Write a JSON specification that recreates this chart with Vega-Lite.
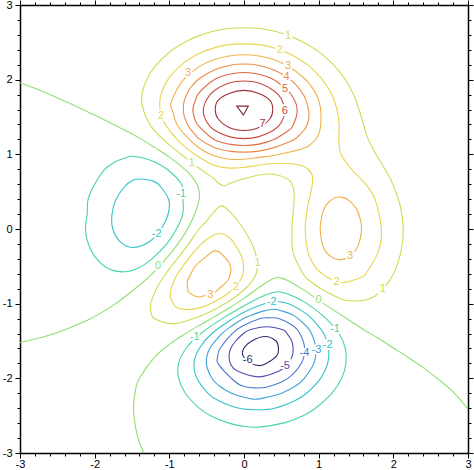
{
"$schema":"https://vega.github.io/schema/vega-lite/v6.json",
"width":448,"height":448,
"autosize":{"type":"none"},
"padding":{"left":20,"top":5,"right":6,"bottom":17},
"background":"white",
"config":{"view":{"stroke":null},"font":"Liberation Sans"},
"resolve":{"axis":{"x":"independent","y":"independent"}},
"datasets":{
"closed":[
{"c":"T7","lv":7,"i":0,"x":-0.385,"y":1.6},{"c":"T7","lv":7,"i":1,"x":-0.35,"y":1.72},{"c":"T7","lv":7,"i":2,"x":-0.2,"y":1.816},{"c":"T7","lv":7,"i":3,"x":0,"y":1.857},{"c":"T7","lv":7,"i":4,"x":0.2,"y":1.816},{"c":"T7","lv":7,"i":5,"x":0.35,"y":1.72},{"c":"T7","lv":7,"i":6,"x":0.385,"y":1.6},{"c":"T7","lv":7,"i":7,"x":0.35,"y":1.48},{"c":"T7","lv":7,"i":8,"x":0.2,"y":1.36},{"c":"T7","lv":7,"i":9,"x":0,"y":1.32},{"c":"T7","lv":7,"i":10,"x":-0.2,"y":1.36},{"c":"T7","lv":7,"i":11,"x":-0.35,"y":1.48},
{"c":"T6","lv":6,"i":0,"x":-0.545,"y":1.58},{"c":"T6","lv":6,"i":1,"x":-0.5,"y":1.733},{"c":"T6","lv":6,"i":2,"x":-0.4,"y":1.851},{"c":"T6","lv":6,"i":3,"x":-0.2,"y":1.954},{"c":"T6","lv":6,"i":4,"x":0,"y":1.983},{"c":"T6","lv":6,"i":5,"x":0.2,"y":1.954},{"c":"T6","lv":6,"i":6,"x":0.4,"y":1.851},{"c":"T6","lv":6,"i":7,"x":0.5,"y":1.743},{"c":"T6","lv":6,"i":8,"x":0.545,"y":1.58},{"c":"T6","lv":6,"i":9,"x":0.5,"y":1.425},{"c":"T6","lv":6,"i":10,"x":0.4,"y":1.326},{"c":"T6","lv":6,"i":11,"x":0.2,"y":1.237},{"c":"T6","lv":6,"i":12,"x":0,"y":1.211},{"c":"T6","lv":6,"i":13,"x":-0.2,"y":1.237},{"c":"T6","lv":6,"i":14,"x":-0.4,"y":1.326},{"c":"T6","lv":6,"i":15,"x":-0.5,"y":1.437},
{"c":"T5","lv":5,"i":0,"x":-0.685,"y":1.6},{"c":"T5","lv":5,"i":1,"x":-0.65,"y":1.723},{"c":"T5","lv":5,"i":2,"x":-0.6,"y":1.826},{"c":"T5","lv":5,"i":3,"x":-0.4,"y":1.999},{"c":"T5","lv":5,"i":4,"x":-0.2,"y":2.073},{"c":"T5","lv":5,"i":5,"x":0,"y":2.096},{"c":"T5","lv":5,"i":6,"x":0.2,"y":2.073},{"c":"T5","lv":5,"i":7,"x":0.4,"y":1.999},{"c":"T5","lv":5,"i":8,"x":0.6,"y":1.838},{"c":"T5","lv":5,"i":9,"x":0.65,"y":1.771},{"c":"T5","lv":5,"i":10,"x":0.7,"y":1.67},{"c":"T5","lv":5,"i":11,"x":0.712,"y":1.58},{"c":"T5","lv":5,"i":12,"x":0.7,"y":1.5},{"c":"T5","lv":5,"i":13,"x":0.65,"y":1.375},{"c":"T5","lv":5,"i":14,"x":0.6,"y":1.323},{"c":"T5","lv":5,"i":15,"x":0.4,"y":1.198},{"c":"T5","lv":5,"i":16,"x":0.2,"y":1.137},{"c":"T5","lv":5,"i":17,"x":0,"y":1.118},{"c":"T5","lv":5,"i":18,"x":-0.2,"y":1.137},{"c":"T5","lv":5,"i":19,"x":-0.4,"y":1.198},{"c":"T5","lv":5,"i":20,"x":-0.6,"y":1.372},{"c":"T5","lv":5,"i":21,"x":-0.65,"y":1.448},
{"c":"T4","lv":4,"i":0,"x":-0.812,"y":1.61},{"c":"T4","lv":4,"i":1,"x":-0.8,"y":1.718},{"c":"T4","lv":4,"i":2,"x":-0.75,"y":1.838},{"c":"T4","lv":4,"i":3,"x":-0.7,"y":1.912},{"c":"T4","lv":4,"i":4,"x":-0.6,"y":2.012},{"c":"T4","lv":4,"i":5,"x":-0.4,"y":2.131},{"c":"T4","lv":4,"i":6,"x":-0.2,"y":2.19},{"c":"T4","lv":4,"i":7,"x":0,"y":2.209},{"c":"T4","lv":4,"i":8,"x":0.2,"y":2.19},{"c":"T4","lv":4,"i":9,"x":0.4,"y":2.131},{"c":"T4","lv":4,"i":10,"x":0.6,"y":2.016},{"c":"T4","lv":4,"i":11,"x":0.7,"y":1.926},{"c":"T4","lv":4,"i":12,"x":0.8,"y":1.79},{"c":"T4","lv":4,"i":13,"x":0.85,"y":1.66},{"c":"T4","lv":4,"i":14,"x":0.872,"y":1.53},{"c":"T4","lv":4,"i":15,"x":0.85,"y":1.41},{"c":"T4","lv":4,"i":16,"x":0.8,"y":1.319},{"c":"T4","lv":4,"i":17,"x":0.7,"y":1.218},{"c":"T4","lv":4,"i":18,"x":0.6,"y":1.164},{"c":"T4","lv":4,"i":19,"x":0.4,"y":1.09},{"c":"T4","lv":4,"i":20,"x":0.2,"y":1.043},{"c":"T4","lv":4,"i":21,"x":0,"y":1.029},{"c":"T4","lv":4,"i":22,"x":-0.2,"y":1.043},{"c":"T4","lv":4,"i":23,"x":-0.4,"y":1.09},{"c":"T4","lv":4,"i":24,"x":-0.6,"y":1.207},{"c":"T4","lv":4,"i":25,"x":-0.7,"y":1.318},{"c":"T4","lv":4,"i":26,"x":-0.75,"y":1.389},{"c":"T4","lv":4,"i":27,"x":-0.8,"y":1.508},
{"c":"T3","lv":3,"i":0,"x":-0.982,"y":1.66},{"c":"T3","lv":3,"i":1,"x":-0.95,"y":1.76},{"c":"T3","lv":3,"i":2,"x":-0.9,"y":1.866},{"c":"T3","lv":3,"i":3,"x":-0.8,"y":2.011},{"c":"T3","lv":3,"i":4,"x":-0.6,"y":2.175},{"c":"T3","lv":3,"i":5,"x":-0.4,"y":2.267},{"c":"T3","lv":3,"i":6,"x":-0.2,"y":2.317},{"c":"T3","lv":3,"i":7,"x":0,"y":2.333},{"c":"T3","lv":3,"i":8,"x":0.2,"y":2.317},{"c":"T3","lv":3,"i":9,"x":0.4,"y":2.267},{"c":"T3","lv":3,"i":10,"x":0.6,"y":2.176},{"c":"T3","lv":3,"i":11,"x":0.8,"y":2.026},{"c":"T3","lv":3,"i":12,"x":0.9,"y":1.912},{"c":"T3","lv":3,"i":13,"x":1.0,"y":1.729},{"c":"T3","lv":3,"i":14,"x":1.032,"y":1.5},{"c":"T3","lv":3,"i":15,"x":1.0,"y":1.268},{"c":"T3","lv":3,"i":16,"x":0.9,"y":1.14},{"c":"T3","lv":3,"i":17,"x":0.8,"y":1.08},{"c":"T3","lv":3,"i":18,"x":0.6,"y":1.027},{"c":"T3","lv":3,"i":19,"x":0.4,"y":0.985},{"c":"T3","lv":3,"i":20,"x":0.2,"y":0.959},{"c":"T3","lv":3,"i":21,"x":0,"y":0.935},{"c":"T3","lv":3,"i":22,"x":-0.2,"y":0.934},{"c":"T3","lv":3,"i":23,"x":-0.4,"y":0.98},{"c":"T3","lv":3,"i":24,"x":-0.6,"y":1.084},{"c":"T3","lv":3,"i":25,"x":-0.8,"y":1.27},{"c":"T3","lv":3,"i":26,"x":-0.9,"y":1.405},{"c":"T3","lv":3,"i":27,"x":-0.95,"y":1.56},
{"c":"R3","lv":3,"i":0,"x":1.02,"y":0},{"c":"R3","lv":3,"i":1,"x":1.05,"y":0.205},{"c":"R3","lv":3,"i":2,"x":1.1,"y":0.32},{"c":"R3","lv":3,"i":3,"x":1.2,"y":0.41},{"c":"R3","lv":3,"i":4,"x":1.3,"y":0.427},{"c":"R3","lv":3,"i":5,"x":1.4,"y":0.387},{"c":"R3","lv":3,"i":6,"x":1.5,"y":0.279},{"c":"R3","lv":3,"i":7,"x":1.55,"y":0.16},{"c":"R3","lv":3,"i":8,"x":1.575,"y":0},{"c":"R3","lv":3,"i":9,"x":1.55,"y":-0.16},{"c":"R3","lv":3,"i":10,"x":1.5,"y":-0.278},{"c":"R3","lv":3,"i":11,"x":1.4,"y":-0.378},{"c":"R3","lv":3,"i":12,"x":1.3,"y":-0.41},{"c":"R3","lv":3,"i":13,"x":1.2,"y":-0.39},{"c":"R3","lv":3,"i":14,"x":1.1,"y":-0.31},{"c":"R3","lv":3,"i":15,"x":1.05,"y":-0.205},
{"c":"C2","lv":2,"i":0,"x":0,"y":2.48},{"c":"C2","lv":2,"i":1,"x":0.2,"y":2.469},{"c":"C2","lv":2,"i":2,"x":0.4,"y":2.426},{"c":"C2","lv":2,"i":3,"x":0.6,"y":2.351},{"c":"C2","lv":2,"i":4,"x":0.8,"y":2.237},{"c":"C2","lv":2,"i":5,"x":0.9,"y":2.159},{"c":"C2","lv":2,"i":6,"x":1.05,"y":2.0},{"c":"C2","lv":2,"i":7,"x":1.177,"y":1.8},{"c":"C2","lv":2,"i":8,"x":1.246,"y":1.6},{"c":"C2","lv":2,"i":9,"x":1.275,"y":1.4},{"c":"C2","lv":2,"i":10,"x":1.27,"y":1.2},{"c":"C2","lv":2,"i":11,"x":1.3,"y":1.0},{"c":"C2","lv":2,"i":12,"x":1.44,"y":0.8},{"c":"C2","lv":2,"i":13,"x":1.63,"y":0.6},{"c":"C2","lv":2,"i":14,"x":1.754,"y":0.4},{"c":"C2","lv":2,"i":15,"x":1.84,"y":0},{"c":"C2","lv":2,"i":16,"x":1.8,"y":-0.3},{"c":"C2","lv":2,"i":17,"x":1.63,"y":-0.6},{"c":"C2","lv":2,"i":18,"x":1.56,"y":-0.65},{"c":"C2","lv":2,"i":19,"x":1.42,"y":-0.7},{"c":"C2","lv":2,"i":20,"x":1.32,"y":-0.72},{"c":"C2","lv":2,"i":21,"x":1.22,"y":-0.7},{"c":"C2","lv":2,"i":22,"x":1.123,"y":-0.65},{"c":"C2","lv":2,"i":23,"x":1.05,"y":-0.6},{"c":"C2","lv":2,"i":24,"x":0.948,"y":-0.5},{"c":"C2","lv":2,"i":25,"x":0.855,"y":-0.3},{"c":"C2","lv":2,"i":26,"x":0.82,"y":0},{"c":"C2","lv":2,"i":27,"x":0.853,"y":0.3},{"c":"C2","lv":2,"i":28,"x":0.875,"y":0.4},{"c":"C2","lv":2,"i":29,"x":0.9,"y":0.513},{"c":"C2","lv":2,"i":30,"x":0.92,"y":0.65},{"c":"C2","lv":2,"i":31,"x":0.9,"y":0.752},{"c":"C2","lv":2,"i":32,"x":0.8,"y":0.837},{"c":"C2","lv":2,"i":33,"x":0.6,"y":0.877},{"c":"C2","lv":2,"i":34,"x":0.4,"y":0.877},{"c":"C2","lv":2,"i":35,"x":0.2,"y":0.854},{"c":"C2","lv":2,"i":36,"x":0,"y":0.825},{"c":"C2","lv":2,"i":37,"x":-0.2,"y":0.816},{"c":"C2","lv":2,"i":38,"x":-0.4,"y":0.853},{"c":"C2","lv":2,"i":39,"x":-0.6,"y":0.96},{"c":"C2","lv":2,"i":40,"x":-0.8,"y":1.107},{"c":"C2","lv":2,"i":41,"x":-1.0,"y":1.321},{"c":"C2","lv":2,"i":42,"x":-1.1,"y":1.5},{"c":"C2","lv":2,"i":43,"x":-1.13,"y":1.67},{"c":"C2","lv":2,"i":44,"x":-1.1,"y":1.839},{"c":"C2","lv":2,"i":45,"x":-1.0,"y":2.031},{"c":"C2","lv":2,"i":46,"x":-0.8,"y":2.231},{"c":"C2","lv":2,"i":47,"x":-0.6,"y":2.351},{"c":"C2","lv":2,"i":48,"x":-0.4,"y":2.426},{"c":"C2","lv":2,"i":49,"x":-0.2,"y":2.469},
{"c":"C1","lv":1,"i":0,"x":0,"y":2.695},{"c":"C1","lv":1,"i":1,"x":0.2,"y":2.685},{"c":"C1","lv":1,"i":2,"x":0.4,"y":2.651},{"c":"C1","lv":1,"i":3,"x":0.6,"y":2.59},{"c":"C1","lv":1,"i":4,"x":0.8,"y":2.499},{"c":"C1","lv":1,"i":5,"x":1.0,"y":2.375},{"c":"C1","lv":1,"i":6,"x":1.197,"y":2.2},{"c":"C1","lv":1,"i":7,"x":1.357,"y":2.0},{"c":"C1","lv":1,"i":8,"x":1.467,"y":1.8},{"c":"C1","lv":1,"i":9,"x":1.541,"y":1.6},{"c":"C1","lv":1,"i":10,"x":1.6,"y":1.4},{"c":"C1","lv":1,"i":11,"x":1.663,"y":1.2},{"c":"C1","lv":1,"i":12,"x":1.768,"y":1.0},{"c":"C1","lv":1,"i":13,"x":1.888,"y":0.8},{"c":"C1","lv":1,"i":14,"x":1.993,"y":0.6},{"c":"C1","lv":1,"i":15,"x":2.095,"y":0.3},{"c":"C1","lv":1,"i":16,"x":2.133,"y":0},{"c":"C1","lv":1,"i":17,"x":2.104,"y":-0.3},{"c":"C1","lv":1,"i":18,"x":2.003,"y":-0.6},{"c":"C1","lv":1,"i":19,"x":1.865,"y":-0.8},{"c":"C1","lv":1,"i":20,"x":1.75,"y":-0.9},{"c":"C1","lv":1,"i":21,"x":1.63,"y":-0.95},{"c":"C1","lv":1,"i":22,"x":1.5,"y":-0.965},{"c":"C1","lv":1,"i":23,"x":1.34,"y":-0.95},{"c":"C1","lv":1,"i":24,"x":1.22,"y":-0.9},{"c":"C1","lv":1,"i":25,"x":1.03,"y":-0.8},{"c":"C1","lv":1,"i":26,"x":0.888,"y":-0.7},{"c":"C1","lv":1,"i":27,"x":0.79,"y":-0.6},{"c":"C1","lv":1,"i":28,"x":0.655,"y":-0.3},{"c":"C1","lv":1,"i":29,"x":0.643,"y":0},{"c":"C1","lv":1,"i":30,"x":0.65,"y":0.13},{"c":"C1","lv":1,"i":31,"x":0.66,"y":0.23},{"c":"C1","lv":1,"i":32,"x":0.672,"y":0.42},{"c":"C1","lv":1,"i":33,"x":0.66,"y":0.55},{"c":"C1","lv":1,"i":34,"x":0.6,"y":0.658},{"c":"C1","lv":1,"i":35,"x":0.4,"y":0.733},{"c":"C1","lv":1,"i":36,"x":0.2,"y":0.723},{"c":"C1","lv":1,"i":37,"x":0,"y":0.672},{"c":"C1","lv":1,"i":38,"x":-0.18,"y":0.615},{"c":"C1","lv":1,"i":39,"x":-0.27,"y":0.575},{"c":"C1","lv":1,"i":40,"x":-0.36,"y":0.63},{"c":"C1","lv":1,"i":41,"x":-0.4,"y":0.673},{"c":"C1","lv":1,"i":42,"x":-0.6,"y":0.814},{"c":"C1","lv":1,"i":43,"x":-0.8,"y":0.966},{"c":"C1","lv":1,"i":44,"x":-1.0,"y":1.126},{"c":"C1","lv":1,"i":45,"x":-1.2,"y":1.318},{"c":"C1","lv":1,"i":46,"x":-1.3,"y":1.469},{"c":"C1","lv":1,"i":47,"x":-1.36,"y":1.64},{"c":"C1","lv":1,"i":48,"x":-1.37,"y":1.74},{"c":"C1","lv":1,"i":49,"x":-1.36,"y":1.84},{"c":"C1","lv":1,"i":50,"x":-1.3,"y":2.007},{"c":"C1","lv":1,"i":51,"x":-1.2,"y":2.167},{"c":"C1","lv":1,"i":52,"x":-1.0,"y":2.367},{"c":"C1","lv":1,"i":53,"x":-0.8,"y":2.497},{"c":"C1","lv":1,"i":54,"x":-0.6,"y":2.59},{"c":"C1","lv":1,"i":55,"x":-0.4,"y":2.651},{"c":"C1","lv":1,"i":56,"x":-0.2,"y":2.685},
{"c":"L3","lv":3,"i":0,"x":-0.38,"y":-0.29},{"c":"L3","lv":3,"i":1,"x":-0.237,"y":-0.4},{"c":"L3","lv":3,"i":2,"x":-0.182,"y":-0.5},{"c":"L3","lv":3,"i":3,"x":-0.182,"y":-0.6},{"c":"L3","lv":3,"i":4,"x":-0.225,"y":-0.7},{"c":"L3","lv":3,"i":5,"x":-0.335,"y":-0.8},{"c":"L3","lv":3,"i":6,"x":-0.396,"y":-0.85},{"c":"L3","lv":3,"i":7,"x":-0.55,"y":-0.9},{"c":"L3","lv":3,"i":8,"x":-0.6,"y":-0.91},{"c":"L3","lv":3,"i":9,"x":-0.65,"y":-0.9},{"c":"L3","lv":3,"i":10,"x":-0.74,"y":-0.85},{"c":"L3","lv":3,"i":11,"x":-0.753,"y":-0.8},{"c":"L3","lv":3,"i":12,"x":-0.759,"y":-0.7},{"c":"L3","lv":3,"i":13,"x":-0.709,"y":-0.6},{"c":"L3","lv":3,"i":14,"x":-0.655,"y":-0.5},{"c":"L3","lv":3,"i":15,"x":-0.543,"y":-0.4},
{"c":"L2","lv":2,"i":0,"x":-0.33,"y":-0.06},{"c":"L2","lv":2,"i":1,"x":-0.213,"y":-0.1},{"c":"L2","lv":2,"i":2,"x":-0.127,"y":-0.2},{"c":"L2","lv":2,"i":3,"x":-0.019,"y":-0.4},{"c":"L2","lv":2,"i":4,"x":-0.012,"y":-0.6},{"c":"L2","lv":2,"i":5,"x":-0.058,"y":-0.7},{"c":"L2","lv":2,"i":6,"x":-0.139,"y":-0.8},{"c":"L2","lv":2,"i":7,"x":-0.269,"y":-0.9},{"c":"L2","lv":2,"i":8,"x":-0.453,"y":-1.0},{"c":"L2","lv":2,"i":9,"x":-0.575,"y":-1.05},{"c":"L2","lv":2,"i":10,"x":-0.75,"y":-1.08},{"c":"L2","lv":2,"i":11,"x":-0.9,"y":-1.05},{"c":"L2","lv":2,"i":12,"x":-0.946,"y":-1.0},{"c":"L2","lv":2,"i":13,"x":-0.987,"y":-0.9},{"c":"L2","lv":2,"i":14,"x":-0.975,"y":-0.8},{"c":"L2","lv":2,"i":15,"x":-0.941,"y":-0.7},{"c":"L2","lv":2,"i":16,"x":-0.888,"y":-0.6},{"c":"L2","lv":2,"i":17,"x":-0.745,"y":-0.4},{"c":"L2","lv":2,"i":18,"x":-0.571,"y":-0.2},{"c":"L2","lv":2,"i":19,"x":-0.439,"y":-0.1},
{"c":"L1","lv":1,"i":0,"x":-0.3,"y":0.31},{"c":"L1","lv":1,"i":1,"x":-0.157,"y":0.2},{"c":"L1","lv":1,"i":2,"x":-0.076,"y":0.1},{"c":"L1","lv":1,"i":3,"x":-0.006,"y":0},{"c":"L1","lv":1,"i":4,"x":0.107,"y":-0.2},{"c":"L1","lv":1,"i":5,"x":0.175,"y":-0.4},{"c":"L1","lv":1,"i":6,"x":0.182,"y":-0.5},{"c":"L1","lv":1,"i":7,"x":0.162,"y":-0.6},{"c":"L1","lv":1,"i":8,"x":0.108,"y":-0.7},{"c":"L1","lv":1,"i":9,"x":0.015,"y":-0.8},{"c":"L1","lv":1,"i":10,"x":-0.105,"y":-0.9},{"c":"L1","lv":1,"i":11,"x":-0.257,"y":-1.0},{"c":"L1","lv":1,"i":12,"x":-0.439,"y":-1.1},{"c":"L1","lv":1,"i":13,"x":-0.678,"y":-1.2},{"c":"L1","lv":1,"i":14,"x":-0.95,"y":-1.27},{"c":"L1","lv":1,"i":15,"x":-1.2,"y":-1.2},{"c":"L1","lv":1,"i":16,"x":-1.248,"y":-1.1},{"c":"L1","lv":1,"i":17,"x":-1.25,"y":-1.0},{"c":"L1","lv":1,"i":18,"x":-1.174,"y":-0.8},{"c":"L1","lv":1,"i":19,"x":-1.048,"y":-0.6},{"c":"L1","lv":1,"i":20,"x":-0.895,"y":-0.4},{"c":"L1","lv":1,"i":21,"x":-0.74,"y":-0.2},{"c":"L1","lv":1,"i":22,"x":-0.603,"y":0},{"c":"L1","lv":1,"i":23,"x":-0.507,"y":0.1},{"c":"L1","lv":1,"i":24,"x":-0.426,"y":0.2},
{"c":"LM1","lv":-1,"i":0,"x":-1.5,"y":0.975},{"c":"LM1","lv":-1,"i":1,"x":-1.35,"y":0.95},{"c":"LM1","lv":-1,"i":2,"x":-1.205,"y":0.9},{"c":"LM1","lv":-1,"i":3,"x":-1.029,"y":0.8},{"c":"LM1","lv":-1,"i":4,"x":-0.836,"y":0.6},{"c":"LM1","lv":-1,"i":5,"x":-0.817,"y":0.4},{"c":"LM1","lv":-1,"i":6,"x":-0.82,"y":0.2},{"c":"LM1","lv":-1,"i":7,"x":-0.904,"y":0},{"c":"LM1","lv":-1,"i":8,"x":-1.034,"y":-0.2},{"c":"LM1","lv":-1,"i":9,"x":-1.234,"y":-0.4},{"c":"LM1","lv":-1,"i":10,"x":-1.4,"y":-0.514},{"c":"LM1","lv":-1,"i":11,"x":-1.6,"y":-0.573},{"c":"LM1","lv":-1,"i":12,"x":-1.8,"y":-0.54},{"c":"LM1","lv":-1,"i":13,"x":-1.973,"y":-0.4},{"c":"LM1","lv":-1,"i":14,"x":-2.084,"y":-0.2},{"c":"LM1","lv":-1,"i":15,"x":-2.124,"y":0},{"c":"LM1","lv":-1,"i":16,"x":-2.1,"y":0.2},{"c":"LM1","lv":-1,"i":17,"x":-2.088,"y":0.4},{"c":"LM1","lv":-1,"i":18,"x":-2.0,"y":0.6},{"c":"LM1","lv":-1,"i":19,"x":-1.865,"y":0.8},{"c":"LM1","lv":-1,"i":20,"x":-1.725,"y":0.9},{"c":"LM1","lv":-1,"i":21,"x":-1.6,"y":0.95},
{"c":"LM2","lv":-2,"i":0,"x":-1.399,"y":0.67},{"c":"LM2","lv":-2,"i":1,"x":-1.215,"y":0.641},{"c":"LM2","lv":-2,"i":2,"x":-1.117,"y":0.569},{"c":"LM2","lv":-2,"i":3,"x":-1.006,"y":0.385},{"c":"LM2","lv":-2,"i":4,"x":-1.016,"y":0.201},{"c":"LM2","lv":-2,"i":5,"x":-1.1,"y":0.017},{"c":"LM2","lv":-2,"i":6,"x":-1.264,"y":-0.167},{"c":"LM2","lv":-2,"i":7,"x":-1.491,"y":-0.248},{"c":"LM2","lv":-2,"i":8,"x":-1.663,"y":-0.167},{"c":"LM2","lv":-2,"i":9,"x":-1.761,"y":0.017},{"c":"LM2","lv":-2,"i":10,"x":-1.767,"y":0.201},{"c":"LM2","lv":-2,"i":11,"x":-1.719,"y":0.385},{"c":"LM2","lv":-2,"i":12,"x":-1.598,"y":0.569},{"c":"LM2","lv":-2,"i":13,"x":-1.491,"y":0.652},
{"c":"B1","lv":-1,"i":0,"x":0.45,"y":-0.84},{"c":"B1","lv":-1,"i":1,"x":0.52,"y":-0.85},{"c":"B1","lv":-1,"i":2,"x":0.66,"y":-0.9},{"c":"B1","lv":-1,"i":3,"x":0.843,"y":-1.0},{"c":"B1","lv":-1,"i":4,"x":1.101,"y":-1.2},{"c":"B1","lv":-1,"i":5,"x":1.273,"y":-1.4},{"c":"B1","lv":-1,"i":6,"x":1.357,"y":-1.6},{"c":"B1","lv":-1,"i":7,"x":1.365,"y":-1.8},{"c":"B1","lv":-1,"i":8,"x":1.309,"y":-2.0},{"c":"B1","lv":-1,"i":9,"x":1.175,"y":-2.2},{"c":"B1","lv":-1,"i":10,"x":0.956,"y":-2.4},{"c":"B1","lv":-1,"i":11,"x":0.791,"y":-2.5},{"c":"B1","lv":-1,"i":12,"x":0.521,"y":-2.6},{"c":"B1","lv":-1,"i":13,"x":0.2,"y":-2.653},{"c":"B1","lv":-1,"i":14,"x":0,"y":-2.644},{"c":"B1","lv":-1,"i":15,"x":-0.2,"y":-2.6},{"c":"B1","lv":-1,"i":16,"x":-0.448,"y":-2.5},{"c":"B1","lv":-1,"i":17,"x":-0.6,"y":-2.4},{"c":"B1","lv":-1,"i":18,"x":-0.785,"y":-2.2},{"c":"B1","lv":-1,"i":19,"x":-0.875,"y":-2.0},{"c":"B1","lv":-1,"i":20,"x":-0.876,"y":-1.8},{"c":"B1","lv":-1,"i":21,"x":-0.776,"y":-1.6},{"c":"B1","lv":-1,"i":22,"x":-0.579,"y":-1.4},{"c":"B1","lv":-1,"i":23,"x":-0.291,"y":-1.2},{"c":"B1","lv":-1,"i":24,"x":0.05,"y":-1.0},{"c":"B1","lv":-1,"i":25,"x":0.249,"y":-0.9},{"c":"B1","lv":-1,"i":26,"x":0.39,"y":-0.85},
{"c":"B2","lv":-2,"i":0,"x":0.45,"y":-0.975},{"c":"B2","lv":-2,"i":1,"x":0.597,"y":-1.0},{"c":"B2","lv":-2,"i":2,"x":0.782,"y":-1.1},{"c":"B2","lv":-2,"i":3,"x":0.907,"y":-1.2},{"c":"B2","lv":-2,"i":4,"x":1.068,"y":-1.4},{"c":"B2","lv":-2,"i":5,"x":1.134,"y":-1.6},{"c":"B2","lv":-2,"i":6,"x":1.121,"y":-1.8},{"c":"B2","lv":-2,"i":7,"x":1.026,"y":-2.0},{"c":"B2","lv":-2,"i":8,"x":0.837,"y":-2.2},{"c":"B2","lv":-2,"i":9,"x":0.68,"y":-2.3},{"c":"B2","lv":-2,"i":10,"x":0.41,"y":-2.4},{"c":"B2","lv":-2,"i":11,"x":0.2,"y":-2.42},{"c":"B2","lv":-2,"i":12,"x":-0.066,"y":-2.4},{"c":"B2","lv":-2,"i":13,"x":-0.338,"y":-2.3},{"c":"B2","lv":-2,"i":14,"x":-0.482,"y":-2.2},{"c":"B2","lv":-2,"i":15,"x":-0.63,"y":-2.0},{"c":"B2","lv":-2,"i":16,"x":-0.67,"y":-1.8},{"c":"B2","lv":-2,"i":17,"x":-0.6,"y":-1.6},{"c":"B2","lv":-2,"i":18,"x":-0.43,"y":-1.4},{"c":"B2","lv":-2,"i":19,"x":-0.149,"y":-1.2},{"c":"B2","lv":-2,"i":20,"x":0.025,"y":-1.1},{"c":"B2","lv":-2,"i":21,"x":0.275,"y":-1.0},
{"c":"B3","lv":-3,"i":0,"x":0.4,"y":-1.075},{"c":"B3","lv":-3,"i":1,"x":0.516,"y":-1.1},{"c":"B3","lv":-3,"i":2,"x":0.65,"y":-1.15},{"c":"B3","lv":-3,"i":3,"x":0.724,"y":-1.2},{"c":"B3","lv":-3,"i":4,"x":0.834,"y":-1.3},{"c":"B3","lv":-3,"i":5,"x":0.904,"y":-1.4},{"c":"B3","lv":-3,"i":6,"x":0.963,"y":-1.6},{"c":"B3","lv":-3,"i":7,"x":0.935,"y":-1.8},{"c":"B3","lv":-3,"i":8,"x":0.807,"y":-2.0},{"c":"B3","lv":-3,"i":9,"x":0.695,"y":-2.1},{"c":"B3","lv":-3,"i":10,"x":0.504,"y":-2.2},{"c":"B3","lv":-3,"i":11,"x":0.319,"y":-2.25},{"c":"B3","lv":-3,"i":12,"x":0.15,"y":-2.28},{"c":"B3","lv":-3,"i":13,"x":-0.011,"y":-2.25},{"c":"B3","lv":-3,"i":14,"x":-0.169,"y":-2.2},{"c":"B3","lv":-3,"i":15,"x":-0.334,"y":-2.1},{"c":"B3","lv":-3,"i":16,"x":-0.43,"y":-2.0},{"c":"B3","lv":-3,"i":17,"x":-0.504,"y":-1.8},{"c":"B3","lv":-3,"i":18,"x":-0.459,"y":-1.6},{"c":"B3","lv":-3,"i":19,"x":-0.295,"y":-1.4},{"c":"B3","lv":-3,"i":20,"x":-0.165,"y":-1.3},{"c":"B3","lv":-3,"i":21,"x":-0.006,"y":-1.2},{"c":"B3","lv":-3,"i":22,"x":0.109,"y":-1.15},{"c":"B3","lv":-3,"i":23,"x":0.258,"y":-1.1},
{"c":"B4","lv":-4,"i":0,"x":0.33,"y":-1.19},{"c":"B4","lv":-4,"i":1,"x":0.467,"y":-1.2},{"c":"B4","lv":-4,"i":2,"x":0.662,"y":-1.3},{"c":"B4","lv":-4,"i":3,"x":0.748,"y":-1.4},{"c":"B4","lv":-4,"i":4,"x":0.813,"y":-1.6},{"c":"B4","lv":-4,"i":5,"x":0.766,"y":-1.8},{"c":"B4","lv":-4,"i":6,"x":0.587,"y":-2.0},{"c":"B4","lv":-4,"i":7,"x":0.368,"y":-2.1},{"c":"B4","lv":-4,"i":8,"x":0.2,"y":-2.13},{"c":"B4","lv":-4,"i":9,"x":-0.026,"y":-2.1},{"c":"B4","lv":-4,"i":10,"x":-0.169,"y":-2.0},{"c":"B4","lv":-4,"i":11,"x":-0.348,"y":-1.8},{"c":"B4","lv":-4,"i":12,"x":-0.351,"y":-1.7},{"c":"B4","lv":-4,"i":13,"x":-0.321,"y":-1.6},{"c":"B4","lv":-4,"i":14,"x":-0.158,"y":-1.4},{"c":"B4","lv":-4,"i":15,"x":-0.019,"y":-1.3},{"c":"B4","lv":-4,"i":16,"x":0.218,"y":-1.2},
{"c":"B5","lv":-5,"i":0,"x":0.3,"y":-1.31},{"c":"B5","lv":-5,"i":1,"x":0.52,"y":-1.35},{"c":"B5","lv":-5,"i":2,"x":0.577,"y":-1.4},{"c":"B5","lv":-5,"i":3,"x":0.64,"y":-1.5},{"c":"B5","lv":-5,"i":4,"x":0.658,"y":-1.6},{"c":"B5","lv":-5,"i":5,"x":0.647,"y":-1.7},{"c":"B5","lv":-5,"i":6,"x":0.592,"y":-1.8},{"c":"B5","lv":-5,"i":7,"x":0.477,"y":-1.9},{"c":"B5","lv":-5,"i":8,"x":0.2,"y":-1.98},{"c":"B5","lv":-5,"i":9,"x":-0.094,"y":-1.9},{"c":"B5","lv":-5,"i":10,"x":-0.183,"y":-1.8},{"c":"B5","lv":-5,"i":11,"x":-0.2,"y":-1.7},{"c":"B5","lv":-5,"i":12,"x":-0.179,"y":-1.6},{"c":"B5","lv":-5,"i":13,"x":-0.11,"y":-1.5},{"c":"B5","lv":-5,"i":14,"x":-0.006,"y":-1.4},{"c":"B5","lv":-5,"i":15,"x":0.08,"y":-1.35},
{"c":"B6","lv":-6,"i":0,"x":0.28,"y":-1.44},{"c":"B6","lv":-6,"i":1,"x":0.428,"y":-1.5},{"c":"B6","lv":-6,"i":2,"x":0.462,"y":-1.6},{"c":"B6","lv":-6,"i":3,"x":0.438,"y":-1.7},{"c":"B6","lv":-6,"i":4,"x":0.298,"y":-1.8},{"c":"B6","lv":-6,"i":5,"x":0.2,"y":-1.83},{"c":"B6","lv":-6,"i":6,"x":0.103,"y":-1.8},{"c":"B6","lv":-6,"i":7,"x":-0.012,"y":-1.7},{"c":"B6","lv":-6,"i":8,"x":-0.004,"y":-1.6},{"c":"B6","lv":-6,"i":9,"x":0.104,"y":-1.5}
],
"tri":[
{"c":"T8","lv":8,"i":0,"x":-0.098,"y":1.645},{"c":"T8","lv":8,"i":1,"x":0.058,"y":1.645},{"c":"T8","lv":8,"i":2,"x":-0.009,"y":1.528}
],
"open":[
{"c":"ZL","lv":0,"i":0,"x":-3,"y":1.96},{"c":"ZL","lv":0,"i":1,"x":-2.8,"y":1.885},{"c":"ZL","lv":0,"i":2,"x":-2.6,"y":1.8},{"c":"ZL","lv":0,"i":3,"x":-2.4,"y":1.712},{"c":"ZL","lv":0,"i":4,"x":-2.2,"y":1.622},{"c":"ZL","lv":0,"i":5,"x":-2.0,"y":1.526},{"c":"ZL","lv":0,"i":6,"x":-1.8,"y":1.427},{"c":"ZL","lv":0,"i":7,"x":-1.6,"y":1.325},{"c":"ZL","lv":0,"i":8,"x":-1.4,"y":1.217},{"c":"ZL","lv":0,"i":9,"x":-1.2,"y":1.093},{"c":"ZL","lv":0,"i":10,"x":-1.0,"y":0.962},{"c":"ZL","lv":0,"i":11,"x":-0.8,"y":0.806},{"c":"ZL","lv":0,"i":12,"x":-0.7,"y":0.705},{"c":"ZL","lv":0,"i":13,"x":-0.63,"y":0.6},{"c":"ZL","lv":0,"i":14,"x":-0.6,"y":0.5},{"c":"ZL","lv":0,"i":15,"x":-0.6,"y":0.4},{"c":"ZL","lv":0,"i":16,"x":-0.66,"y":0.2},{"c":"ZL","lv":0,"i":17,"x":-0.756,"y":0},{"c":"ZL","lv":0,"i":18,"x":-0.885,"y":-0.2},{"c":"ZL","lv":0,"i":19,"x":-1.045,"y":-0.4},{"c":"ZL","lv":0,"i":20,"x":-1.23,"y":-0.6},{"c":"ZL","lv":0,"i":21,"x":-1.46,"y":-0.8},{"c":"ZL","lv":0,"i":22,"x":-1.72,"y":-1.0},{"c":"ZL","lv":0,"i":23,"x":-2.05,"y":-1.2},{"c":"ZL","lv":0,"i":24,"x":-2.4,"y":-1.35},{"c":"ZL","lv":0,"i":25,"x":-2.7,"y":-1.45},{"c":"ZL","lv":0,"i":26,"x":-3,"y":-1.52},
{"c":"ZB","lv":0,"i":0,"x":-1.34,"y":-3.0},{"c":"ZB","lv":0,"i":1,"x":-1.4,"y":-2.86},{"c":"ZB","lv":0,"i":2,"x":-1.45,"y":-2.67},{"c":"ZB","lv":0,"i":3,"x":-1.48,"y":-2.4},{"c":"ZB","lv":0,"i":4,"x":-1.45,"y":-2.14},{"c":"ZB","lv":0,"i":5,"x":-1.4,"y":-2.0},{"c":"ZB","lv":0,"i":6,"x":-1.2,"y":-1.72},{"c":"ZB","lv":0,"i":7,"x":-1.0,"y":-1.546},{"c":"ZB","lv":0,"i":8,"x":-0.8,"y":-1.411},{"c":"ZB","lv":0,"i":9,"x":-0.6,"y":-1.292},{"c":"ZB","lv":0,"i":10,"x":-0.4,"y":-1.177},{"c":"ZB","lv":0,"i":11,"x":-0.2,"y":-1.059},{"c":"ZB","lv":0,"i":12,"x":0,"y":-0.929},{"c":"ZB","lv":0,"i":13,"x":0.2,"y":-0.784},{"c":"ZB","lv":0,"i":14,"x":0.4,"y":-0.661},{"c":"ZB","lv":0,"i":15,"x":0.5,"y":-0.658},{"c":"ZB","lv":0,"i":16,"x":0.6,"y":-0.696},{"c":"ZB","lv":0,"i":17,"x":0.8,"y":-0.815},{"c":"ZB","lv":0,"i":18,"x":1.0,"y":-0.956},{"c":"ZB","lv":0,"i":19,"x":1.2,"y":-1.086},{"c":"ZB","lv":0,"i":20,"x":1.4,"y":-1.216},{"c":"ZB","lv":0,"i":21,"x":1.6,"y":-1.345},{"c":"ZB","lv":0,"i":22,"x":1.8,"y":-1.464},{"c":"ZB","lv":0,"i":23,"x":2.0,"y":-1.593},{"c":"ZB","lv":0,"i":24,"x":2.2,"y":-1.72},{"c":"ZB","lv":0,"i":25,"x":2.4,"y":-1.857},{"c":"ZB","lv":0,"i":26,"x":2.6,"y":-2.01},{"c":"ZB","lv":0,"i":27,"x":2.8,"y":-2.18},{"c":"ZB","lv":0,"i":28,"x":3.0,"y":-2.41}
],
"labels":[
{"t":"1","lv":1,"x":-0.70,"y":0.88},{"t":"1","lv":1,"x":0.59,"y":2.59},{"t":"2","lv":2,"x":0.48,"y":2.40},{"t":"2","lv":2,"x":-1.11,"y":1.52},{"t":"3","lv":3,"x":-0.75,"y":2.09},{"t":"3","lv":3,"x":0.59,"y":2.18},{"t":"4","lv":4,"x":0.57,"y":2.03},{"t":"5","lv":5,"x":0.55,"y":1.88},{"t":"6","lv":6,"x":0.545,"y":1.58},{"t":"7","lv":7,"x":0.25,"y":1.40},
{"t":"3","lv":3,"x":1.42,"y":-0.36},{"t":"2","lv":2,"x":1.24,"y":-0.71},{"t":"1","lv":1,"x":1.86,"y":-0.81},{"t":"0","lv":0,"x":1.0,"y":-0.956},
{"t":"-1","lv":-1,"x":-0.84,"y":0.47},{"t":"-2","lv":-2,"x":-1.17,"y":-0.07},{"t":"0","lv":0,"x":-1.15,"y":-0.5},
{"t":"3","lv":3,"x":-0.45,"y":-0.88},{"t":"2","lv":2,"x":-0.11,"y":-0.78},{"t":"1","lv":1,"x":0.18,"y":-0.45},
{"t":"-1","lv":-1,"x":-0.66,"y":-1.45},{"t":"-2","lv":-2,"x":0.37,"y":-0.98},{"t":"-1","lv":-1,"x":1.22,"y":-1.34},{"t":"-2","lv":-2,"x":1.12,"y":-1.56},{"t":"-3","lv":-3,"x":0.97,"y":-1.62},{"t":"-4","lv":-4,"x":0.81,"y":-1.66},{"t":"-5","lv":-5,"x":0.55,"y":-1.84},{"t":"-6","lv":-6,"x":0.05,"y":-1.76}
]
},
"layer":[
{
"data":{"name":"closed"},
"mark":{"type":"line","interpolate":"cardinal-closed","strokeWidth":1.1,"clip":true},
"encoding":{
"x":{"field":"x","type":"quantitative","scale":{"domain":[-3,3],"nice":false,"zero":false},
"axis":{"orient":"bottom","title":null,"grid":false,"values":[-3,-2.8,-2.6,-2.4,-2.2,-2,-1.8,-1.6,-1.4,-1.2,-1,-0.8,-0.6,-0.4,-0.2,0,0.2,0.4,0.6,0.8,1,1.2,1.4,1.6,1.8,2,2.2,2.4,2.6,2.8,3],
"tickSize":{"condition":{"test":"abs(datum.value - round(datum.value)) < 0.001","value":5},"value":3},
"labelExpr":"abs(datum.value - round(datum.value)) < 0.001 ? '' + round(datum.value) : ''",
"labelFlush":false,"labelOverlap":false,"labelFontSize":11,"labelColor":"black","labelBaseline":"alphabetic","labelPadding":9,
"domainColor":"black","domainWidth":1.5,"tickColor":"black","tickWidth":1}},
"y":{"field":"y","type":"quantitative","scale":{"domain":[-3,3],"nice":false,"zero":false},
"axis":{"orient":"left","title":null,"grid":false,"values":[-3,-2.8,-2.6,-2.4,-2.2,-2,-1.8,-1.6,-1.4,-1.2,-1,-0.8,-0.6,-0.4,-0.2,0,0.2,0.4,0.6,0.8,1,1.2,1.4,1.6,1.8,2,2.2,2.4,2.6,2.8,3],
"tickSize":{"condition":{"test":"abs(datum.value - round(datum.value)) < 0.001","value":5},"value":3},
"labelExpr":"abs(datum.value - round(datum.value)) < 0.001 ? '' + round(datum.value) : ''",
"labelFlush":false,"labelOverlap":false,"labelFontSize":11,"labelColor":"black","labelPadding":3,
"domainColor":"black","domainWidth":1.5,"tickColor":"black","tickWidth":1}},
"color":{"field":"lv","type":"nominal","scale":{"domain":[-6,-5,-4,-3,-2,-1,0,1,2,3,4,5,6,7,8],"range":["#2f2a6e","#4f4fb0","#4f78d0","#3fa2d8","#33c3c6","#48d6a4","#8fe070","#c8e055","#e8d64a","#f1b048","#ee8c44","#e06841","#c8483f","#a3303d","#842838"]},"legend":null},
"detail":{"field":"c"},
"order":{"field":"i","type":"quantitative"}
}
},
{
"data":{"name":"open"},
"mark":{"type":"line","interpolate":"cardinal","strokeWidth":1.1,"clip":true},
"encoding":{
"x":{"field":"x","type":"quantitative","scale":{"domain":[-3,3],"nice":false,"zero":false},
"axis":{"orient":"top","title":null,"grid":false,"labels":false,"values":[-3,-2.8,-2.6,-2.4,-2.2,-2,-1.8,-1.6,-1.4,-1.2,-1,-0.8,-0.6,-0.4,-0.2,0,0.2,0.4,0.6,0.8,1,1.2,1.4,1.6,1.8,2,2.2,2.4,2.6,2.8,3],
"tickSize":{"condition":{"test":"abs(datum.value - round(datum.value)) < 0.001","value":5},"value":3},
"domainColor":"black","domainWidth":1.5,"tickColor":"black","tickWidth":1}},
"y":{"field":"y","type":"quantitative","scale":{"domain":[-3,3],"nice":false,"zero":false},
"axis":{"orient":"right","title":null,"grid":false,"labels":false,"values":[-3,-2.8,-2.6,-2.4,-2.2,-2,-1.8,-1.6,-1.4,-1.2,-1,-0.8,-0.6,-0.4,-0.2,0,0.2,0.4,0.6,0.8,1,1.2,1.4,1.6,1.8,2,2.2,2.4,2.6,2.8,3],
"tickSize":{"condition":{"test":"abs(datum.value - round(datum.value)) < 0.001","value":5},"value":3},
"domainColor":"black","domainWidth":1.5,"tickColor":"black","tickWidth":1}},
"color":{"field":"lv","type":"nominal","legend":null},
"detail":{"field":"c"},
"order":{"field":"i","type":"quantitative"}
}
},
{
"data":{"name":"tri"},
"mark":{"type":"line","interpolate":"linear-closed","strokeWidth":1.1,"clip":true},
"encoding":{
"x":{"field":"x","type":"quantitative","axis":null},
"y":{"field":"y","type":"quantitative","axis":null},
"color":{"field":"lv","type":"nominal","legend":null},
"detail":{"field":"c"},
"order":{"field":"i","type":"quantitative"}
}
},
{
"data":{"name":"labels"},
"mark":{"type":"text","fontSize":11,"font":"Liberation Sans","fill":"white","stroke":"white","strokeWidth":4,"align":"center","baseline":"middle"},
"encoding":{
"x":{"field":"x","type":"quantitative","axis":null},
"y":{"field":"y","type":"quantitative","axis":null},
"text":{"field":"t"}
}
},
{
"data":{"name":"labels"},
"mark":{"type":"text","fontSize":11,"font":"Liberation Sans","align":"center","baseline":"middle"},
"encoding":{
"x":{"field":"x","type":"quantitative","axis":null},
"y":{"field":"y","type":"quantitative","axis":null},
"text":{"field":"t"},
"color":{"field":"lv","type":"nominal","legend":null}
}
}
]
}
